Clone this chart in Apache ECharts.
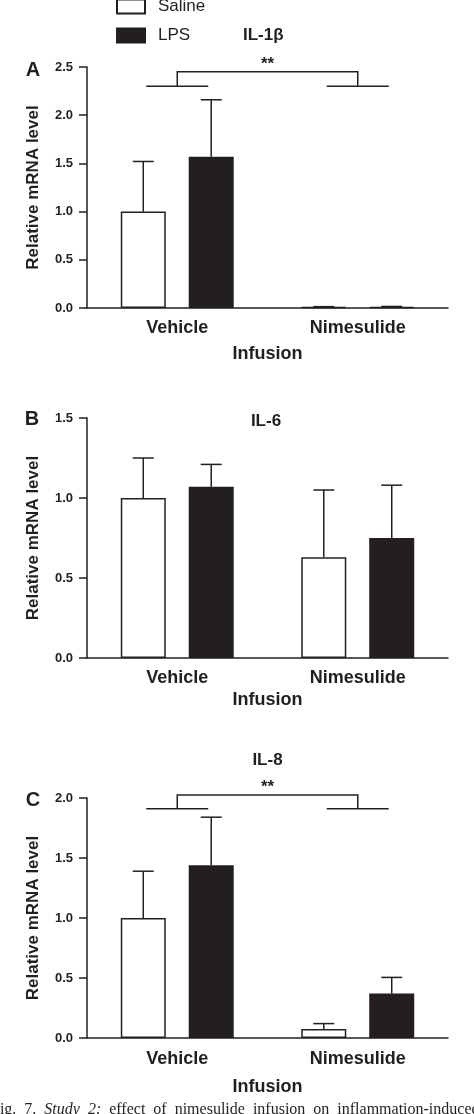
<!DOCTYPE html>
<html>
<head>
  <meta charset="utf-8">
  <title>IL-1β, IL-6, IL-8 mRNA</title>
  <script src="https://cdn.jsdelivr.net/npm/echarts@6/dist/echarts.min.js"></script>
  <style>
    html, body { margin: 0; padding: 0; background: #fff; }
    #chart { width: 474px; height: 1114px; }
  </style>
</head>
<body>
  <div id="chart"></div>
  <script>
    // categories and tick labels
    const categories = ['Vehicle', 'Nimesulide'];
    const seriesNames = ['Saline', 'LPS'];

    // IL-1beta (panel A): mean and top of error bar
    const il1bSaline = [1.0, 0.010];
    const il1bSalineTop = [1.52, 0.014];
    const il1bLps = [1.57, 0.012];
    const il1bLpsTop = [2.16, 0.016];

    // IL-6 (panel B)
    const il6Saline = [1.0, 0.63];
    const il6SalineTop = [1.25, 1.05];
    const il6Lps = [1.07, 0.75];
    const il6LpsTop = [1.21, 1.08];

    // IL-8 (panel C)
    const il8Saline = [1.0, 0.075];
    const il8SalineTop = [1.39, 0.12];
    const il8Lps = [1.44, 0.37];
    const il8LpsTop = [1.84, 0.505];

    // significance brackets: [lower level, upper level]
    const bracketA = [2.30, 2.45];
    const bracketC = [1.91, 2.025];

    // y axis max per panel
    const yMax = [2.5, 1.5, 2.0];

    const ink = '#231f20';
    const sans = '"Liberation Sans", Arial, Helvetica, sans-serif';
    const barWidth = 45;
    const barGap = '51%';
    const barOffset = (45 + 45 * 0.51) / 2;
    const capHalf = 10.5;

    const chart = echarts.init(document.getElementById('chart'));

    const grids = [
      { left: 87, top: 67, width: 361, height: 241 },
      { left: 87, top: 418, width: 361, height: 240 },
      { left: 87, top: 798, width: 361, height: 240 }
    ];
    const nameGaps = [37, 33, 40];
    const labelMargins = [11, 11, 12];

    function xAxisFor(i) {
      return {
        type: 'category', gridIndex: i, data: categories,
        name: 'Infusion', nameLocation: 'middle', nameGap: nameGaps[i],
        nameTextStyle: { fontFamily: sans, fontWeight: 'bold', fontSize: 18, color: ink },
        axisLine: { lineStyle: { color: ink, width: 1.5 } },
        axisTick: { alignWithLabel: true, length: 8, lineStyle: { color: ink, width: 1.5 } },
        axisLabel: { fontFamily: sans, fontWeight: 'bold', fontSize: 18, color: ink, margin: labelMargins[i] }
      };
    }

    function yAxisFor(i) {
      return {
        type: 'value', gridIndex: i, min: 0, max: yMax[i], interval: 0.5,
        name: 'Relative mRNA level', nameLocation: 'middle', nameGap: 45,
        nameTextStyle: { fontFamily: sans, fontWeight: 'bold', fontSize: 17, color: ink },
        axisLine: { show: true, lineStyle: { color: ink, width: 1.5 } },
        axisTick: { show: true, length: 8, lineStyle: { color: ink, width: 1.5 } },
        splitLine: { show: false },
        axisLabel: {
          fontFamily: sans, fontWeight: 'bold', fontSize: 13, color: ink, margin: 14,
          formatter: v => v.toFixed(1)
        }
      };
    }

    function barSeries(name, i, values) {
      const filled = name === 'LPS';
      return {
        type: 'bar', name: name, xAxisIndex: i, yAxisIndex: i,
        data: values, barWidth: barWidth, barGap: barGap,
        itemStyle: { color: filled ? ink : '#ffffff', borderColor: ink, borderWidth: 1.5 },
        emphasis: { disabled: true }
      };
    }

    function errorSeries(i, side, values, tops) {
      return {
        type: 'custom', xAxisIndex: i, yAxisIndex: i, silent: true, clip: false,
        data: values.map((v, k) => [k, v, tops[k]]),
        encode: { x: 0, y: [1, 2] },
        renderItem: function (params, api) {
          const b = api.coord([api.value(0), api.value(1)]);
          const t = api.coord([api.value(0), api.value(2)]);
          const x = b[0] + side * barOffset;
          const st = { stroke: ink, lineWidth: 1.5 };
          return {
            type: 'group', children: [
              { type: 'line', shape: { x1: x, y1: b[1], x2: x, y2: t[1] }, style: st },
              { type: 'line', shape: { x1: x - capHalf, y1: t[1], x2: x + capHalf, y2: t[1] }, style: st }
            ]
          };
        }
      };
    }

    function bracketSeries(i, levels) {
      return {
        type: 'custom', xAxisIndex: i, yAxisIndex: i, silent: true, clip: false,
        data: [[0, levels[0], levels[1]]],
        encode: { x: 0, y: [1, 2] },
        renderItem: function (params, api) {
          const lo = api.value(1), hi = api.value(2);
          const a = api.coord([0, lo]);
          const b = api.coord([1, lo]);
          const h = api.coord([0, hi])[1];
          const st = { stroke: ink, lineWidth: 1.5, fill: null };
          return {
            type: 'group', children: [
              { type: 'line', shape: { x1: a[0] - 31, y1: a[1], x2: a[0] + 31, y2: a[1] }, style: st },
              { type: 'line', shape: { x1: b[0] - 31, y1: b[1], x2: b[0] + 31, y2: b[1] }, style: st },
              { type: 'polyline', shape: { points: [[a[0], a[1]], [a[0], h], [b[0], h], [b[0], b[1]]] }, style: st },
              {
                type: 'text', x: (a[0] + b[0]) / 2, y: h + 1,
                style: { text: '**', align: 'center', verticalAlign: 'bottom', font: 'bold 17px ' + sans, fill: ink }
              }
            ]
          };
        }
      };
    }

    function label(text, x, y, size, align) {
      return {
        type: 'text', x: x, y: y, silent: true,
        style: { text: text, align: align || 'center', verticalAlign: 'middle', font: 'bold ' + size + 'px ' + sans, fill: ink }
      };
    }

    // caption line, cut off by the bottom edge as in the source figure; spaces doubled for the justified look
    const caption = 'Fig. 7. {i|Study 2:} effect of nimesulide infusion on inflammation-induced'.split(' ').join('  ');

    const option = {
      animation: false,
      backgroundColor: '#ffffff',
      grid: grids,
      xAxis: [xAxisFor(0), xAxisFor(1), xAxisFor(2)],
      yAxis: [yAxisFor(0), yAxisFor(1), yAxisFor(2)],
      legend: {
        data: seriesNames, orient: 'vertical', left: 116, top: -2, padding: 0,
        itemWidth: 28, itemHeight: 14, itemGap: 12, selectedMode: false,
        icon: 'rect',
        textStyle: { fontFamily: sans, fontSize: 17, color: ink, padding: [0, 0, 0, 8] }
      },
      graphic: [
        label('IL-1β', 243, 35, 17, 'left'),
        label('A', 33, 70, 20),
        label('IL-6', 266, 421.5, 17),
        label('B', 32, 419.5, 20),
        label('IL-8', 267.5, 760, 17),
        label('C', 33, 800, 20),
        {
          type: 'text', x: -9, y: 1102, silent: true,
          style: {
            text: caption,
            font: '16px "Liberation Serif", "Times New Roman", serif', fill: ink, verticalAlign: 'top',
            rich: { i: { fontStyle: 'italic', fontFamily: '"Liberation Serif", serif', fontSize: 16, fill: ink } }
          }
        }
      ],
      series: [
        barSeries('Saline', 0, il1bSaline),
        barSeries('LPS', 0, il1bLps),
        errorSeries(0, -1, il1bSaline, il1bSalineTop),
        errorSeries(0, 1, il1bLps, il1bLpsTop),
        bracketSeries(0, bracketA),

        barSeries('Saline', 1, il6Saline),
        barSeries('LPS', 1, il6Lps),
        errorSeries(1, -1, il6Saline, il6SalineTop),
        errorSeries(1, 1, il6Lps, il6LpsTop),

        barSeries('Saline', 2, il8Saline),
        barSeries('LPS', 2, il8Lps),
        errorSeries(2, -1, il8Saline, il8SalineTop),
        errorSeries(2, 1, il8Lps, il8LpsTop),
        bracketSeries(2, bracketC)
      ]
    };

    chart.setOption(option);
  </script>
</body>
</html>
